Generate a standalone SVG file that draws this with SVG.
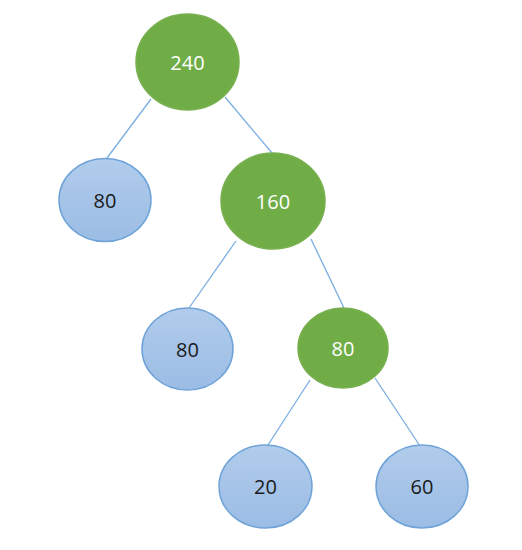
<svg xmlns="http://www.w3.org/2000/svg" width="522" height="550" viewBox="0 0 522 550">
<style>
.g{fill:#70AD47;stroke:#78B050;stroke-width:1.5}
.b{fill:url(#bg);stroke:#6FA3D8;stroke-width:1.5}
.tw{fill:#ffffff;font-family:"Open Sans","Liberation Sans",sans-serif;font-size:20px;text-anchor:middle;dominant-baseline:central}
.tb{fill:#1a1a1a;font-family:"Open Sans","Liberation Sans",sans-serif;font-size:20px;text-anchor:middle;dominant-baseline:central}
.c line{stroke:#7AAEE0;stroke-width:1.3}
</style>
<defs>
<linearGradient id="bg" x1="0" y1="0" x2="0" y2="1">
<stop offset="0" stop-color="#B1CCEC"/>
<stop offset="1" stop-color="#9BBCE4"/>
</linearGradient>
</defs>
<rect width="522" height="550" fill="#ffffff"/>
<g class="c" id="connectors">
<line x1="151" y1="99" x2="107" y2="158"/>
<line x1="225" y1="97" x2="272" y2="153"/>
<line x1="236" y1="241" x2="189" y2="308"/>
<line x1="311" y1="239" x2="344" y2="308"/>
<line x1="310" y1="380" x2="268" y2="445"/>
<line x1="375" y1="378" x2="420" y2="446"/>
</g>
<g id="n240"><ellipse class="g" cx="187.5" cy="62" rx="51.5" ry="48"/><text class="tw" x="187.5" y="62">240</text></g>
<g id="n80a"><ellipse class="b" cx="105" cy="200" rx="46" ry="41.5"/><text class="tb" x="105" y="200">80</text></g>
<g id="n160"><ellipse class="g" cx="273" cy="201" rx="52" ry="48"/><text class="tw" x="273" y="201">160</text></g>
<g id="n80b"><ellipse class="b" cx="187.5" cy="349" rx="45.5" ry="41"/><text class="tb" x="187.5" y="349">80</text></g>
<g id="n80c"><ellipse class="g" cx="343" cy="348" rx="45" ry="40"/><text class="tw" x="343" y="348">80</text></g>
<g id="n20"><ellipse class="b" cx="265.5" cy="486.5" rx="46.5" ry="41.5"/><text class="tb" x="265.5" y="486.5">20</text></g>
<g id="n60"><ellipse class="b" cx="422" cy="486.5" rx="46" ry="41.5"/><text class="tb" x="422" y="486.5">60</text></g>
</svg>
